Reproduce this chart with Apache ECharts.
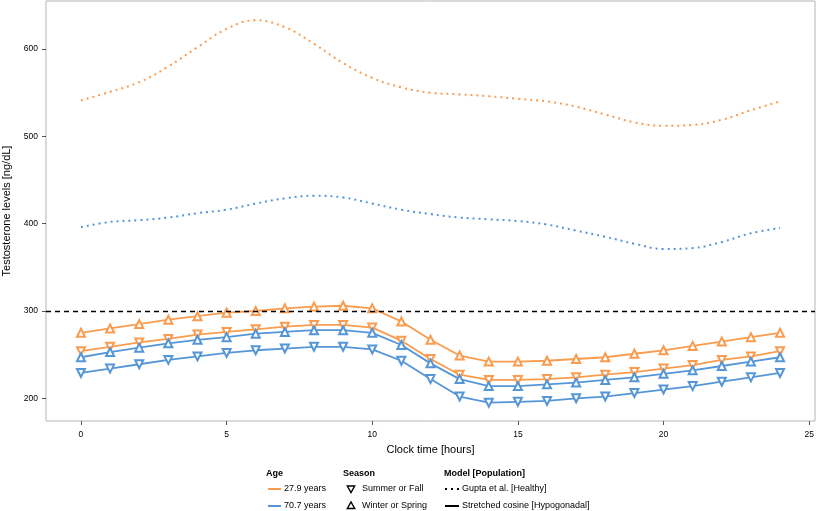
<!DOCTYPE html>
<html>
<head>
<meta charset="utf-8">
<script src="https://cdn.jsdelivr.net/npm/echarts@6/dist/echarts.min.js"></script>
<style>
body { margin: 0; background: #fff; }
#main { width: 816px; height: 511px; }
</style>
</head>
<body>
<div id="main"></div>
<script>
// clock time, hours
var hours = [0, 1, 2, 3, 4, 5, 6, 7, 8, 9, 10, 11, 12, 13, 14, 15, 16, 17, 18, 19, 20, 21, 22, 23, 24];

// Gupta et al. [Healthy]
var gupta279 = [541, 551, 562, 580, 602, 623, 633, 625, 606, 584, 567, 556, 550, 548, 546, 543, 540, 534, 525, 516, 512, 513, 519, 530, 540];
var gupta707 = [396, 402, 404, 407, 412, 416, 423, 429, 432, 430, 423, 416, 411, 407, 405, 403, 399, 392, 385, 377, 371, 372, 379, 389, 395];

// Stretched cosine [Hypogonadal]
var hypo279Winter = [275, 280, 285, 290, 294, 298, 300, 303, 305, 306, 303, 288, 267, 249, 242, 242, 243, 245, 247, 251, 255, 260, 265, 270, 275];
var hypo279Summer = [254, 259, 264, 268, 273, 276, 279, 282, 284, 284, 281, 266, 245, 227, 221, 221, 222, 224, 227, 230, 234, 238, 244, 248, 254];
var hypo707Winter = [247, 253, 258, 263, 267, 270, 274, 276, 278, 278, 275, 261, 240, 222, 214, 214, 216, 218, 221, 224, 228, 232, 237, 242, 247];
var hypo707Summer = [229, 234, 239, 244, 248, 252, 255, 257, 259, 259, 256, 243, 222, 202, 195, 196, 197, 200, 202, 206, 210, 214, 219, 224, 229];

// threshold
var threshold = 300;

// tick labels
var xTicks = [0, 5, 10, 15, 20, 25];
var yTicks = [200, 300, 400, 500, 600];

var ORANGE = "#f99c4f";
var BLUE = "#5596d6";
var FONT = "'Liberation Sans', Arial, sans-serif";

function pairs(ys) {
	var out = [];
	for (var i = 0; i < hours.length; i++) {
		out.push([hours[i], ys[i]]);
	}
	return out;
}

function dotted(name, ys, color) {
	return {
		name: name,
		type: 'line',
		data: pairs(ys),
		smooth: 0.4,
		showSymbol: false,
		lineStyle: { color: color, width: 2, type: [2, 4] },
		z: 2
	};
}

function solid(name, ys, color, up) {
	return {
		name: name,
		type: 'line',
		data: pairs(ys),
		symbol: 'emptyTriangle',
		symbolSize: 8,
		symbolRotate: up ? 0 : 180,
		itemStyle: { color: color, borderWidth: 1.3 },
		lineStyle: { color: color, width: 1.8 },
		z: 3
	};
}

var myChart = echarts.init(document.getElementById('main'));

// --- legend drawn by hand (three titled groups) ---
var legendText = { fontSize: 9, fontFamily: FONT, fill: "#000", verticalAlign: 'middle' };
function txt(s, x, y, bold) {
	return {
		type: 'text', x: x, y: y,
		style: Object.assign({}, legendText, { text: s, fontWeight: bold ? 'bold' : 'normal' })
	};
}
function seg(x1, x2, y, color, dash) {
	return {
		type: 'line',
		shape: { x1: x1, y1: y, x2: x2, y2: y },
		style: { stroke: color, lineWidth: 2, lineDash: dash || null }
	};
}

var graphics = [
	txt('Age', 266, 474, true),
	seg(268, 281, 489, ORANGE), txt('27.9 years', 284, 489),
	seg(268, 281, 506, BLUE), txt('70.7 years', 284, 506),

	txt('Season', 343, 474, true),
	{ type: 'polygon', shape: { points: [[347.3, 486], [354.7, 486], [351, 492.6]] }, style: { fill: 'none', stroke: '#000', lineWidth: 1.4 } },
	txt('Summer or Fall', 362, 489),
	{ type: 'polygon', shape: { points: [[347.3, 508.5], [354.7, 508.5], [351, 501.9]] }, style: { fill: 'none', stroke: '#000', lineWidth: 1.4 } },
	txt('Winter or Spring', 362, 506),

	txt('Model [Population]', 444, 474, true),
	seg(445, 459, 489, '#000', [2, 4]), txt('Gupta et al. [Healthy]', 462, 489),
	seg(445, 459, 506, '#000'), txt('Stretched cosine [Hypogonadal]', 462, 506)
];

myChart.setOption({
	animation: false,
	backgroundColor: '#fff',
	textStyle: { fontFamily: FONT },
	grid: {
		left: 46,
		top: 1,
		right: 1,
		bottom: 90,
		outerBoundsMode: 'none',
		containLabel: false,
		show: true,
		borderColor: '#b5b5b5',
		borderWidth: 1,
		backgroundColor: '#fff'
	},
	xAxis: {
		type: 'value',
		min: -1.2,
		max: 25.2,
		name: 'Clock time [hours]',
		nameLocation: 'middle',
		nameGap: 23,
		nameTextStyle: { fontSize: 11, color: '#000', fontFamily: FONT },
		axisLine: { show: false, onZero: false },
		axisTick: { show: true, length: 4, customValues: xTicks, lineStyle: { color: '#555' } },
		axisLabel: { customValues: xTicks, fontSize: 8.5, color: '#000', margin: 9 },
		splitLine: { show: false }
	},
	yAxis: {
		type: 'value',
		min: 174,
		max: 655,
		name: 'Testosterone levels [ng/dL]',
		nameLocation: 'middle',
		nameGap: 33,
		nameTextStyle: { fontSize: 11, color: '#000', fontFamily: FONT },
		axisLine: { show: false, onZero: false },
		axisTick: { show: true, length: 4, customValues: yTicks, lineStyle: { color: '#555' } },
		axisLabel: { customValues: yTicks, fontSize: 8.5, color: '#000', margin: 8 },
		splitLine: { show: false }
	},
	series: [
		dotted('Gupta 27.9', gupta279, ORANGE),
		dotted('Gupta 70.7', gupta707, BLUE),
		{
			name: 'threshold',
			type: 'line',
			data: [],
			markLine: {
				silent: true,
				symbol: 'none',
				label: { show: false },
				lineStyle: { color: '#000', width: 1.4, type: [5, 4] },
				data: [{ yAxis: threshold }]
			},
			z: 4
		},
		solid('27.9 Winter', hypo279Winter, ORANGE, true),
		solid('27.9 Summer', hypo279Summer, ORANGE, false),
		solid('70.7 Winter', hypo707Winter, BLUE, true),
		solid('70.7 Summer', hypo707Summer, BLUE, false)
	],
	graphic: graphics
});
</script>
</body>
</html>
